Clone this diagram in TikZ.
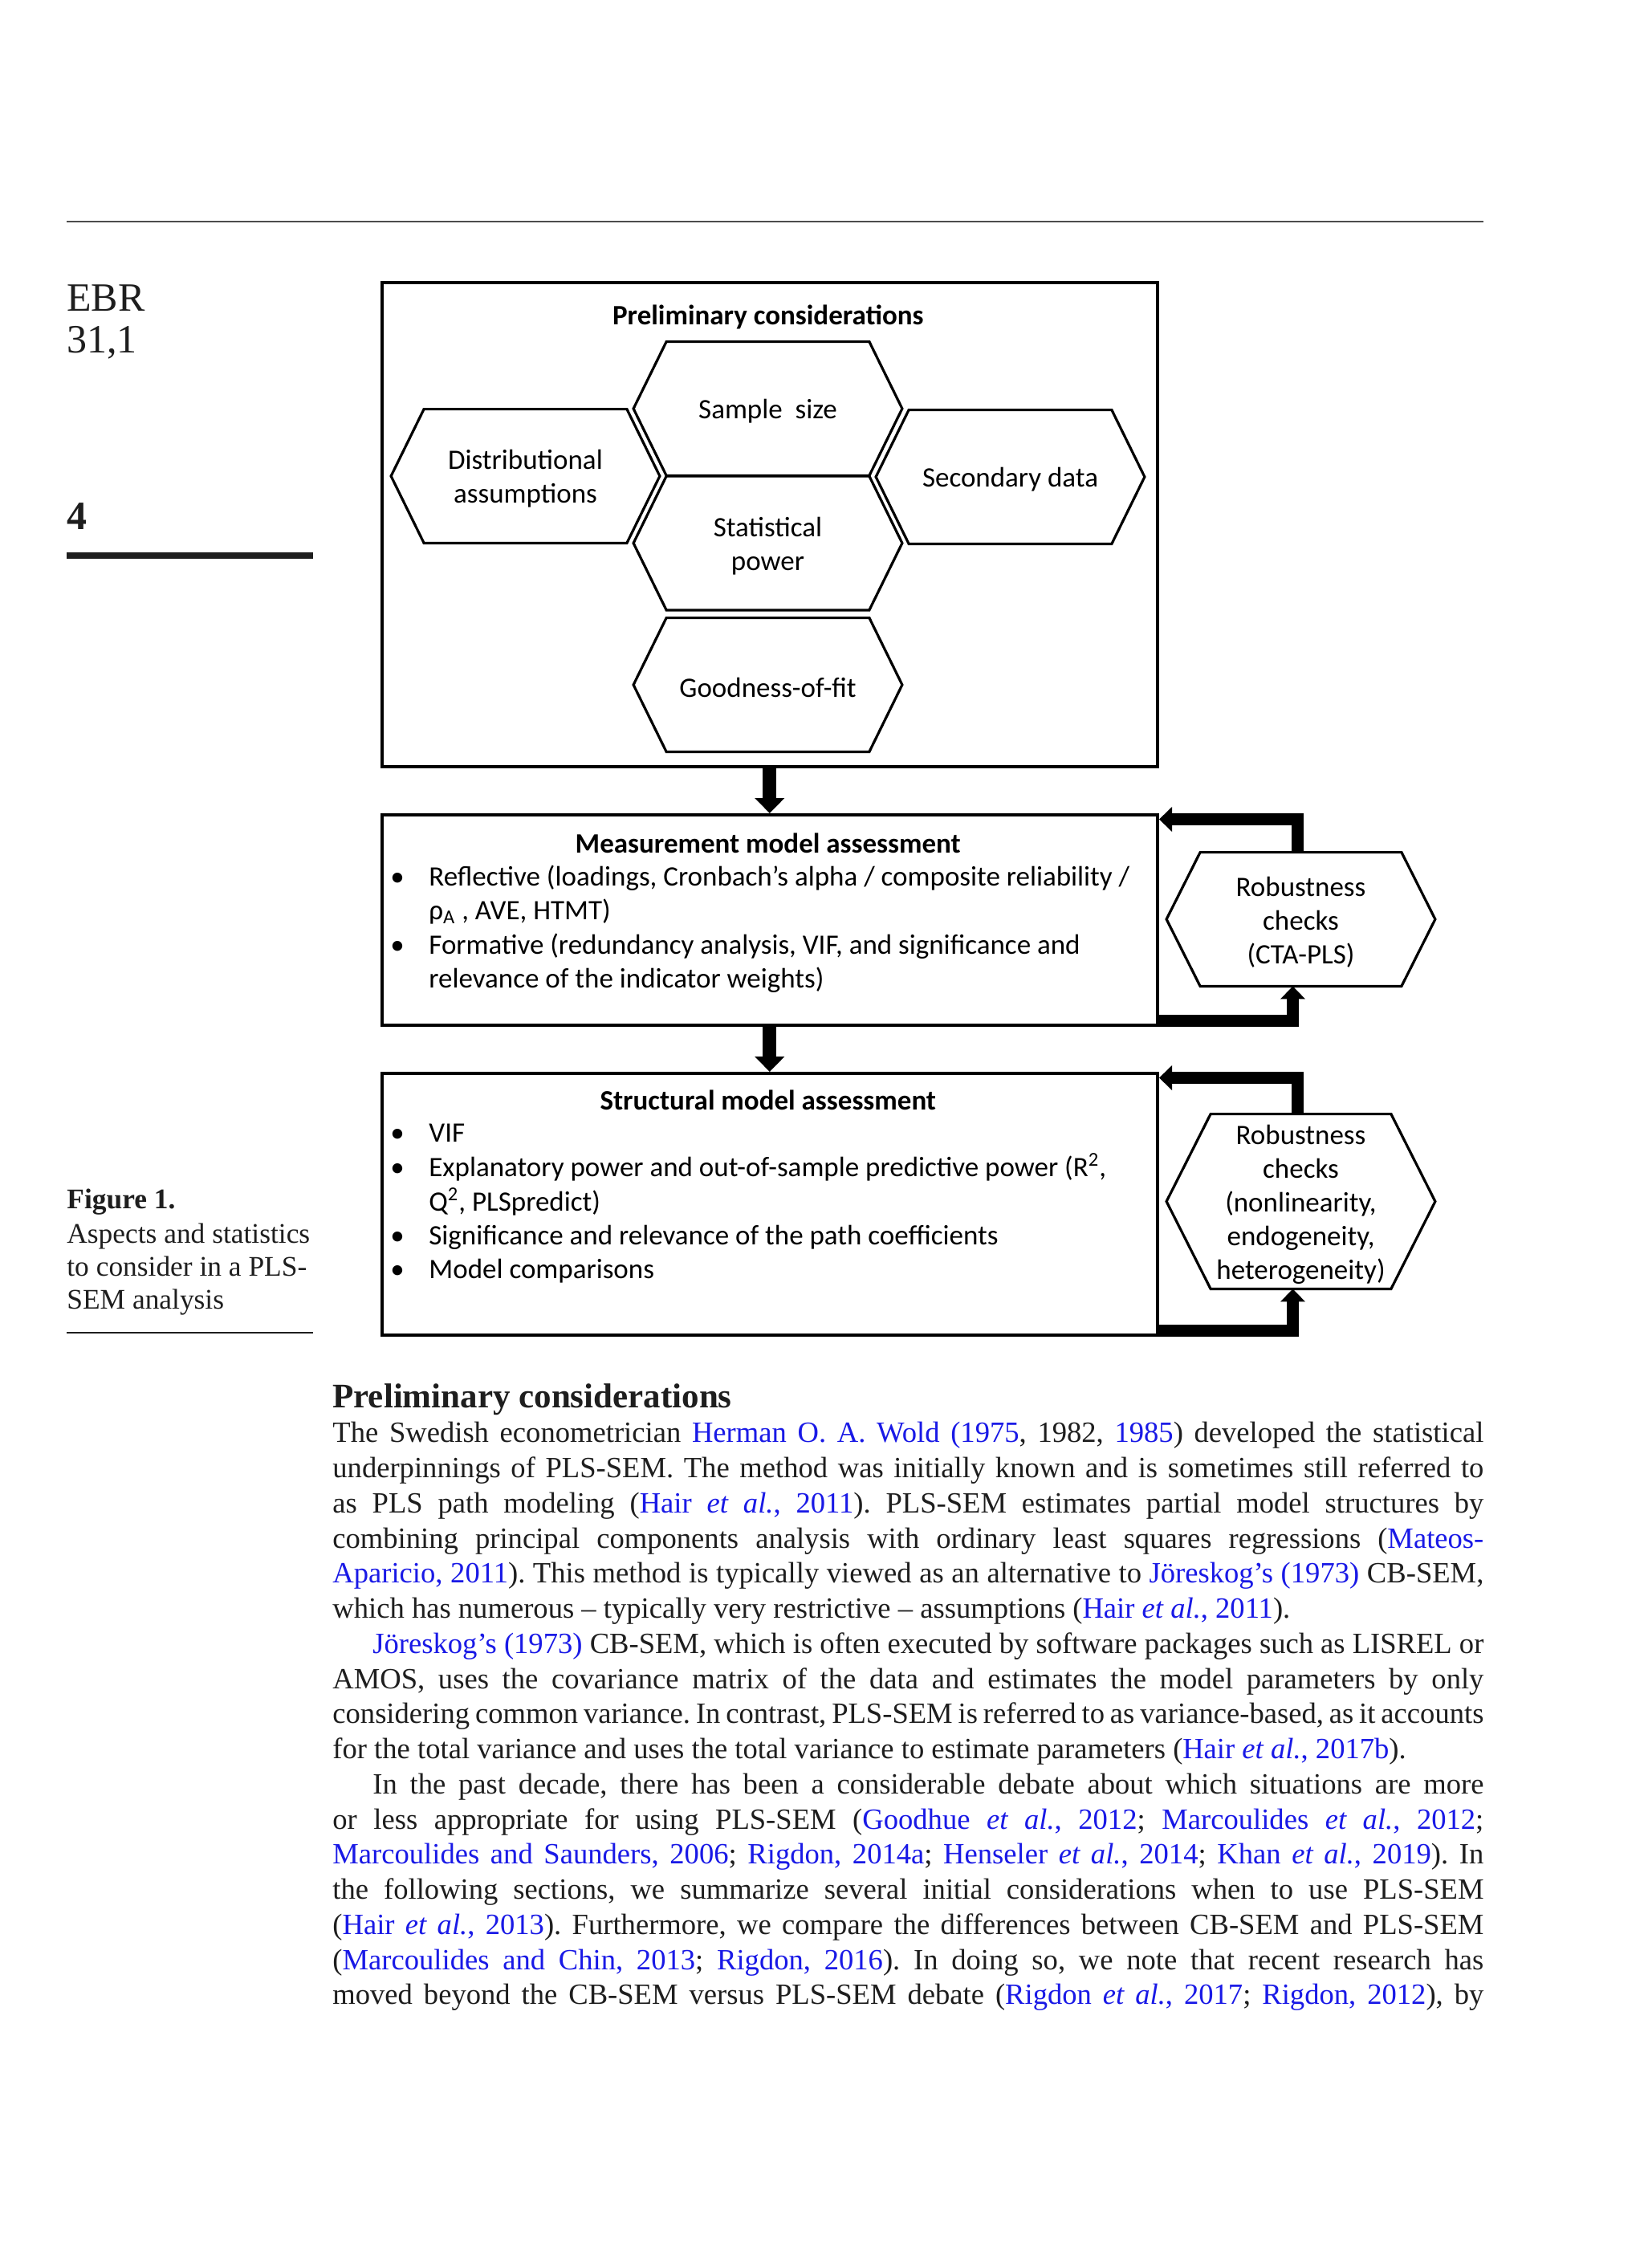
\documentclass[tikz,border=0pt]{standalone}
\usepackage{fontspec}
\setmainfont{Liberation Serif}
\newfontfamily\diafont{Carlito}
\usetikzlibrary{arrows.meta}
\definecolor{linkblue}{RGB}{25,25,230}
\definecolor{ink}{RGB}{30,30,30}
\newcommand\lk[1]{\textcolor{linkblue}{#1}}
\newcommand\etal{\textit{et al.}}
\newcommand\jline[1]{\hbox to 717pt{#1}}
\newcommand\jlinei[1]{\hbox to 692pt{#1}}
% hexagon outline round a label node; the outline sits 1.7pt above the label centre
\newcommand\hexpath[2]{\draw[hexline] ([yshift=1.7pt]#1.west) -- ([xshift=#2,yshift=1.7pt]#1.north west) -- ([xshift=-#2,yshift=1.7pt]#1.north east) -- ([yshift=1.7pt]#1.east) -- ([xshift=-#2,yshift=1.7pt]#1.south east) -- ([xshift=#2,yshift=1.7pt]#1.south west) -- cycle;}
\frenchspacing
\begin{document}
\begin{tikzpicture}[x=1pt,y=-1pt,
  box/.style={draw=black, line width=2pt, inner sep=0pt},
  hexline/.style={draw=black, line width=1.6pt, line join=miter},
  dia/.style={font=\diafont\fontsize{17.5}{21}\selectfont, inner sep=0pt, text=black},
  diatitle/.style={font=\diafont\bfseries\fontsize{17.5}{21}\selectfont, inner sep=0pt, anchor=base},
  diline/.style={dia, anchor=base west},
  bulletmark/.style={dia, anchor=base},
  hexnode/.style={dia, align=center, minimum width=167pt, minimum height=83pt},
  mainarrow/.style={line width=8.5pt, -{Triangle[width=18pt,length=9.5pt]}},
  fbarrow/.style={line width=7.5pt, line join=miter, -{Triangle[width=15pt,length=8pt]}},
  bodytext/.style={font=\fontsize{18.3}{21.875}\selectfont, text=ink, inner sep=0pt, anchor=base west},
  sidetext/.style={font=\fontsize{25}{26}\selectfont, text=ink, inner sep=0pt, anchor=base west},
  captext/.style={font=\fontsize{17.7}{20.8}\selectfont, text=ink, inner sep=0pt, anchor=base west},
  ]
\useasboundingbox (0,0) rectangle (1024,1412.5);
\fill[white] (0,0) rectangle (1024,1412.5);

% ---------- page header ----------
\draw[line width=1.2pt, black!70] (41.5,138) -- (924,138);
\node[sidetext] (ebr) at (41.5,193.5) {EBR};
\node[sidetext] (vol) at (41.5,219.5) {31,1};
\node[sidetext, font=\bfseries\fontsize{25}{26}\selectfont] (pg) at (41.5,329.5) {4};
\draw[line width=4pt, ink] (41.5,346) -- (195,346);

% ---------- preliminary considerations ----------
\node[box, anchor=north west, minimum width=483.2pt, minimum height=301.5pt] (pc) at (236.8,175) {};
\node[diatitle] (pct) at (478.4,202) {Preliminary considerations};
\node[hexnode] (ss) at (478.25,256.2) {Sample\ \ size};
\node[hexnode] (sp) at (478.25,339.95) {Statistical\\power};
\node[hexnode] (gf) at (478.25,428.2) {Goodness-of-fit};
\node[hexnode] (da) at (327.25,298.2) {Distributional\\assumptions};
\node[hexnode] (sd) at (629.25,298.7) {Secondary data};
\hexpath{ss}{20.5pt}
\hexpath{sp}{20.5pt}
\hexpath{gf}{20.5pt}
\hexpath{da}{20.5pt}
\hexpath{sd}{20.5pt}

% ---------- measurement model ----------
\node[box, anchor=north west, minimum width=483.2pt, minimum height=131pt] (mm) at (236.8,506.5) {};
\node[diatitle] (mmt) at (478.4,531) {Measurement model assessment};
\node[bulletmark] (mb1) at (247.5,551.5) {•};
\node[diline] (ml1) at (267,551.5) {Reflective (loadings, Cronbach’s alpha / composite reliability /};
\node[diline] (ml2) at (267,572.5) {ρ\textsubscript{A} , AVE, HTMT)};
\node[bulletmark] (mb2) at (247.5,594) {•};
\node[diline] (ml3) at (267,594) {Formative (redundancy analysis, VIF, and significance and};
\node[diline] (ml4) at (267,615) {relevance of the indicator weights)};

% ---------- structural model ----------
\node[box, anchor=north west, minimum width=483.2pt, minimum height=163pt] (sm) at (236.8,667.5) {};
\node[diatitle] (smt) at (478.4,691) {Structural model assessment};
\node[bulletmark] (sb1) at (247.5,711) {•};
\node[diline] (sl1) at (267,711) {VIF};
\node[bulletmark] (sb2) at (247.5,732.5) {•};
\node[diline] (sl2) at (267,732.5) {Explanatory power and out-of-sample predictive power (R\textsuperscript{2},};
\node[diline] (sl3) at (267,754) {Q\textsuperscript{2}, PLSpredict)};
\node[bulletmark] (sb3) at (247.5,775) {•};
\node[diline] (sl4) at (267,775) {Significance and relevance of the path coefficients};
\node[bulletmark] (sb4) at (247.5,796) {•};
\node[diline] (sl5) at (267,796) {Model comparisons};

% ---------- robustness checks ----------
\node[hexnode] (r1) at (810.25,574.2) {Robustness\\checks\\(CTA-PLS)};
\hexpath{r1}{21pt}
\node[hexnode, minimum height=108.5pt] (r2) at (810.25,749.95) {Robustness\\checks\\(nonlinearity,\\endogeneity,\\heterogeneity)};
\hexpath{r2}{27.5pt}
\coordinate (r1top) at ([xshift=-2pt,yshift=1.7pt]r1.north);
\coordinate (r1bot) at ([xshift=-5pt,yshift=1.7pt]r1.south);
\coordinate (r2top) at ([xshift=-2pt,yshift=1.7pt]r2.north);
\coordinate (r2bot) at ([xshift=-5pt,yshift=1.7pt]r2.south);

% ---------- arrows ----------
\draw[mainarrow] (pc.south) -- (mm.north);
\draw[mainarrow] (mm.south) -- (sm.north);
\draw[fbarrow] (r1top) |- ([yshift=-3.75pt]mm.north east);
\draw[fbarrow] ([yshift=3.75pt]mm.south east) -| (r1bot);
\draw[fbarrow] (r2top) |- ([yshift=-3.75pt]sm.north east);
\draw[fbarrow] ([yshift=3.75pt]sm.south east) -| (r2bot);

% ---------- caption ----------
\node[captext, font=\bfseries\fontsize{17.7}{20.8}\selectfont] (figl) at (41.5,752.5) {Figure 1.};
\node[captext] (cap1) at (41.5,774) {Aspects and statistics};
\node[captext] (cap2) at (41.5,794.5) {to consider in a PLS-};
\node[captext] (cap3) at (41.5,815) {SEM analysis};
\draw[line width=1.3pt, ink] (41.5,830) -- (195,830);

% ---------- body text ----------
\node[bodytext, font=\bfseries\fontsize{21.5}{24}\selectfont] (head) at (207,876.5) {Preliminary considerations};
\node[bodytext] (l1) at (207,898.35) {\jline{The Swedish econometrician \lk{Herman O. A. Wold (1975}, 1982, \lk{1985}) developed the statistical}};
\node[bodytext] (l2) at (207,920.2) {\jline{underpinnings of PLS-SEM. The method was initially known and is sometimes still referred to}};
\node[bodytext] (l3) at (207,942.1) {\jline{as PLS path modeling (\lk{Hair \etal, 2011}). PLS-SEM estimates partial model structures by}};
\node[bodytext] (l4) at (207,964.0) {\jline{combining principal components analysis with ordinary least squares regressions (\lk{Mateos-}}};
\node[bodytext] (l5) at (207,985.85) {\jline{\lk{Aparicio, 2011}). This method is typically viewed as an alternative to \lk{Jöreskog’s (1973)} CB-SEM,}};
\node[bodytext] (l6) at (207,1007.7) {which has numerous – typically very restrictive – assumptions (\lk{Hair \etal, 2011}).};
\node[bodytext] (l7) at (232,1029.6) {\jlinei{\lk{Jöreskog’s (1973)} CB-SEM, which is often executed by software packages such as LISREL or}};
\node[bodytext] (l8) at (207,1051.5) {\jline{AMOS, uses the covariance matrix of the data and estimates the model parameters by only}};
\node[bodytext] (l9) at (207,1073.35) {\jline{considering common variance. In contrast, PLS-SEM is referred to as variance-based, as it accounts}};
\node[bodytext] (l10) at (207,1095.2) {for the total variance and uses the total variance to estimate parameters (\lk{Hair \etal, 2017b}).};
\node[bodytext] (l11) at (232,1117.1) {\jlinei{In the past decade, there has been a considerable debate about which situations are more}};
\node[bodytext] (l12) at (207,1139.0) {\jline{or less appropriate for using PLS-SEM (\lk{Goodhue \etal, 2012}; \lk{Marcoulides \etal, 2012};}};
\node[bodytext] (l13) at (207,1160.85) {\jline{\lk{Marcoulides and Saunders, 2006}; \lk{Rigdon, 2014a}; \lk{Henseler \etal, 2014}; \lk{Khan \etal, 2019}). In}};
\node[bodytext] (l14) at (207,1182.7) {\jline{the following sections, we summarize several initial considerations when to use PLS-SEM}};
\node[bodytext] (l15) at (207,1204.6) {\jline{(\lk{Hair \etal, 2013}). Furthermore, we compare the differences between CB-SEM and PLS-SEM}};
\node[bodytext] (l16) at (207,1226.5) {\jline{(\lk{Marcoulides and Chin, 2013}; \lk{Rigdon, 2016}). In doing so, we note that recent research has}};
\node[bodytext] (l17) at (207,1248.35) {\jline{moved beyond the CB-SEM versus PLS-SEM debate (\lk{Rigdon \etal, 2017}; \lk{Rigdon, 2012}), by}};
\end{tikzpicture}
\end{document}
